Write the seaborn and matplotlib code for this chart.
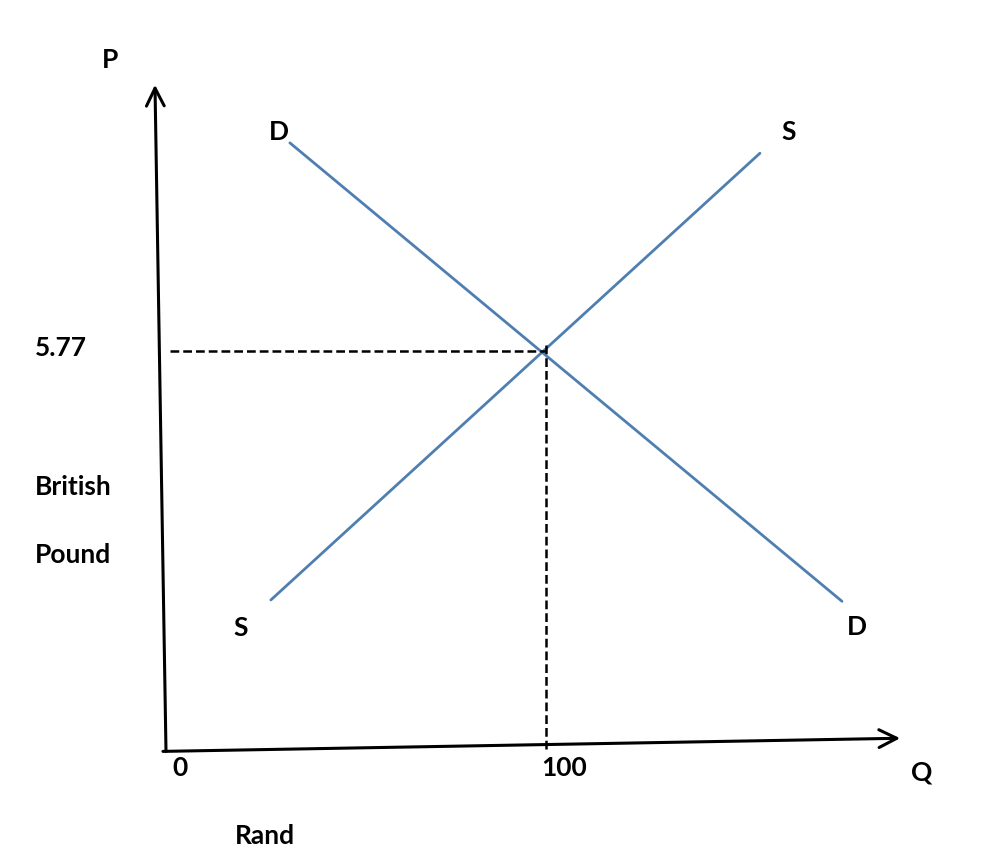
import matplotlib
matplotlib.use("Agg")
import matplotlib.pyplot as plt
import seaborn as sns
import pandas as pd

# ─── Data (Q = quantity of rand, P = price in British pound) ─────────────
demand_q = [32.6, 177.9]
demand_p = [8.78, 2.15]
supply_q = [27.6, 156.3]
supply_p = [2.17, 8.63]
eq_q = 100
eq_p = 5.77

price_labels = ["5.77", "British", "Pound"]
qty_labels = ["0", "100"]

# ─── Layout (pixel scale of the reference) ──────────────────────────────
W, H = 987, 864
ORIGIN = (166, 750)
PX_PER_Q = 3.8
PX_PER_P = 69.15
BLUE = "#4f7fb1"
FONT = dict(family="Lato", fontweight="bold", fontsize=19, color="black")

sns.set_theme(style="white")
plt.rcParams["font.family"] = ["Lato", "DejaVu Sans"]

fig = plt.figure(figsize=(W / 100, H / 100), dpi=100)
ax = fig.add_axes([0, 0, 1, 1])
ax.set_xlim(-ORIGIN[0] / PX_PER_Q, (W - ORIGIN[0]) / PX_PER_Q)
ax.set_ylim(-(H - ORIGIN[1]) / PX_PER_P, ORIGIN[1] / PX_PER_P)
ax.axis("off")

df = pd.concat([
    pd.DataFrame({"Q": demand_q, "P": demand_p, "curve": "D"}),
    pd.DataFrame({"Q": supply_q, "P": supply_p, "curve": "S"}),
])
sns.lineplot(data=df, x="Q", y="P", units="curve", estimator=None,
             color=BLUE, lw=2.0, legend=False, ax=ax)

# axes drawn by hand, slightly tilted like the sketch
arrow = dict(arrowstyle="->", lw=2.2, color="black", mutation_scale=32,
             shrinkA=0, shrinkB=0)
ax.annotate("", xy=(-2.9, 9.62), xytext=(0, -0.02), arrowprops=arrow)
ax.annotate("", xy=(193.2, 0.17), xytext=(-0.8, -0.02), arrowprops=arrow)

# equilibrium guides
dash = (0, (3.5, 1.6))
ax.plot([1, eq_q], [eq_p, eq_p], color="black", lw=1.8, linestyle=dash)
ax.plot([eq_q, eq_q], [eq_p + 0.09, 0], color="black", lw=1.8, linestyle=dash)


def px_text(x, y, s, ha="center"):
    fig.text(x / W, 1 - y / H, s, ha=ha, va="center", **FONT)


px_text(110, 60, "P")
px_text(35, 348, price_labels[0], ha="left")
px_text(35, 487, price_labels[1], ha="left")
px_text(35, 555, price_labels[2], ha="left")
px_text(180, 768, qty_labels[0])
px_text(564, 768, qty_labels[1])
px_text(922, 773, "Q")
px_text(265, 836, "Rand")
px_text(279, 132, "D")
px_text(789, 132, "S")
px_text(241, 628, "S")
px_text(857, 627, "D")

fig.savefig("out.png", dpi=100)
